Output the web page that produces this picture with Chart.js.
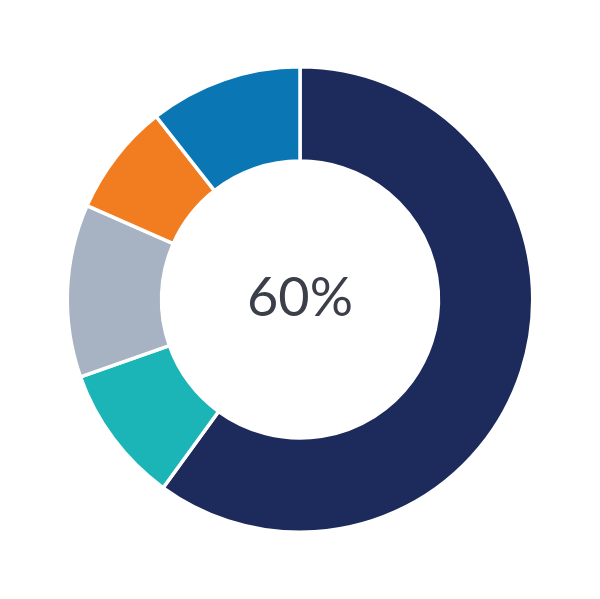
<!DOCTYPE html>
<html>
<head>
<meta charset="utf-8">
<script src="https://cdn.jsdelivr.net/npm/chart.js@4"></script>
<style>
html,body{margin:0;padding:0;background:#fff;}
#wrap{width:600px;height:599px;position:relative;}
</style>
</head>
<body>
<div id="wrap"><canvas id="c"></canvas></div>
<script>
const labels = ["Navy", "Teal", "Gray", "Orange", "Blue"];
const values = [60, 9.6, 12, 7.8, 10.6];
const colors = ["#1c2b5b", "#1bb5b7", "#a7b3c2", "#f27d21", "#0a76b4"];
const centerText = "60%";

const centerPlugin = {
  id: "centerText",
  afterDraw(chart) {
    const meta = chart.getDatasetMeta(0);
    const arc = meta.data[0];
    const ctx = chart.ctx;
    ctx.save();
    ctx.font = "400 54px Lato, 'Open Sans', sans-serif";
    ctx.fillStyle = "#3a3f4a";
    ctx.textAlign = "center";
    ctx.textBaseline = "alphabetic";
    ctx.fillText(centerText, arc.x, arc.y + 16);
    ctx.restore();
  }
};

new Chart(document.getElementById("c"), {
  type: "doughnut",
  data: {
    labels: labels,
    datasets: [{
      data: values,
      backgroundColor: colors,
      borderColor: "#ffffff",
      borderWidth: 3.5
    }]
  },
  options: {
    responsive: true,
    maintainAspectRatio: false,
    animation: false,
    cutout: "59.5%",
    layout: { padding: { left: 65, right: 65, top: 65, bottom: 65 } },
    plugins: {
      legend: { display: false },
      tooltip: { enabled: false }
    }
  },
  plugins: [centerPlugin]
});
</script>
</body>
</html>
